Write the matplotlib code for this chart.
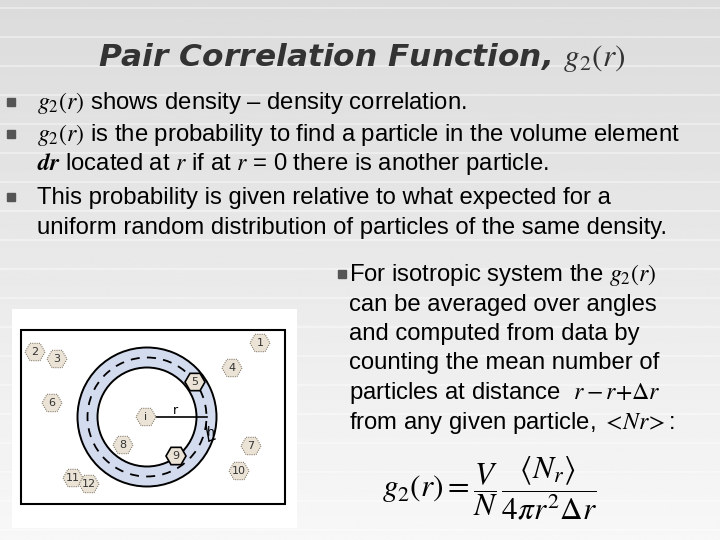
import numpy as np
import matplotlib
matplotlib.use("Agg")
import matplotlib.pyplot as plt
from matplotlib.patches import Circle, Rectangle, RegularPolygon, Wedge

plt.rcParams['mathtext.fontset'] = 'stix'

# ---- content ----
title = r'Pair Correlation Function, $g_2(r)$'
bullets_top = [
    [r'$g_2(r)$ shows density – density correlation.'],
    [r'$g_2(r)$ is the probability to find a particle in the volume element',
     r'$\boldsymbol{dr}$ located at $r$ if at $r$ = 0 there is another particle.'],
    ['This probability is given relative to what expected for a',
     'uniform random distribution of particles of the same density.'],
]
bullet_right = [
    r'For isotropic system the $g_2(r)$',
    'can be averaged over angles',
    'and computed from data by',
    'counting the mean number of',
    r'particles at distance  $r - r{+}\mathit{\Delta}r$',
    r'from any given particle, $<\!Nr\!>$:',
]
formula = r'$g_2(r) = \dfrac{V}{N}\,\dfrac{\langle N_r\rangle}{4\pi r^2\Delta r}$'

particle_labels = ['1', '2', '3', '4', '5', '6', 'i', '7', '8', '9', '10', '11', '12']
particle_x = [260, 35, 57, 232, 195, 52, 146, 251, 123, 176, 239, 73, 89]
particle_y = [343, 352, 359, 368, 382, 403, 417, 446, 445, 456, 471, 478, 484]
particle_outlined = ['5', '9']

# ---- figure ----
fig = plt.figure(figsize=(7.2, 5.4), dpi=100)
ax = fig.add_axes([0, 0, 1, 1])
ax.set_xlim(0, 720)
ax.set_ylim(540, 0)
ax.axis('off')

# background gradient
grad = np.linspace(0.86, 0.97, 256).reshape(-1, 1)
grad = np.hstack([grad, grad])
ax.imshow(grad, extent=[0, 720, 540, 0], cmap='gray', vmin=0, vmax=1,
          aspect='auto', zorder=0)
for yy in np.arange(8, 540, 29):
    ax.plot([0, 720], [yy, yy], color='white', lw=1.2, alpha=0.45, zorder=0.5)

# title
ax.text(362, 58, title, ha='center', va='center', fontsize=22.5,
        fontstyle='italic', fontweight='bold', color='#333333',
        family='DejaVu Sans', zorder=3)

# top bullets
line_ys = [[103], [135, 164], [198, 228]]
for group, ys in zip(bullets_top, line_ys):
    ax.add_patch(Rectangle((7, ys[0] - 5), 8, 8, color='#555555', zorder=3))
    for ln, yy in zip(group, ys):
        ax.text(37, yy, ln, ha='left', va='center', fontsize=17.2,
                family='Liberation Sans', color='black', zorder=3)

# right bullet
ax.add_patch(Rectangle((338, 270), 8, 8, color='#555555', zorder=3))
for k, ln in enumerate(bullet_right):
    ax.text(349, 275 + k * 29.5, ln, ha='left', va='center', fontsize=17.2,
            family='Liberation Sans', color='black', zorder=3)

ax.text(382, 488, formula, ha='left', va='center', fontsize=22.5,
        color='black', zorder=3)

# ---- diagram ----
ax.add_patch(Rectangle((12, 309), 285, 219, facecolor='white',
                       edgecolor='none', zorder=1))
ax.add_patch(Rectangle((21, 330), 264, 174, facecolor='white',
                       edgecolor='black', lw=1.5, zorder=2))
cx, cy = 147, 417
ax.add_patch(Wedge((cx, cy), 69.5, 0, 360, width=20, facecolor='#d3dbef',
                   edgecolor='black', lw=1.4, zorder=2.2))
ax.add_patch(Circle((cx, cy), 59.5, fill=False, edgecolor='black', lw=1.3,
                    linestyle=(0, (5, 4)), zorder=2.3))
ax.plot([cx, cx + 60], [cy, cy], color='black', lw=1.2, zorder=2.4)
ax.text(cx + 28, cy - 7, 'r', fontsize=9, ha='center', va='center',
        family='DejaVu Sans', zorder=2.5)
ax.plot([cx + 59, cx + 62], [cy + 8, cy + 24], color='black', lw=1, zorder=2.4)
ax.plot([cx + 62, cx + 68], [cy + 24, cy + 22], color='black', lw=1, zorder=2.4)
ax.text(cx + 64, cy + 15, 'h', fontsize=9, ha='center', va='center',
        family='DejaVu Sans', zorder=2.5)

for lab, px, py in zip(particle_labels, particle_x, particle_y):
    outlined = lab in particle_outlined
    ax.add_patch(RegularPolygon((px, py), numVertices=6, radius=10,
                                orientation=np.pi / 6,
                                facecolor='#eae3d6',
                                edgecolor='black' if outlined else '#8a8070',
                                lw=1.2 if outlined else 0.8,
                                linestyle='-' if outlined else (0, (1, 1)),
                                zorder=3))
    ax.text(px, py, lab, fontsize=8, ha='center', va='center',
            family='DejaVu Sans', color='#333333', zorder=3.5)

fig.savefig('out.png', dpi=100)
